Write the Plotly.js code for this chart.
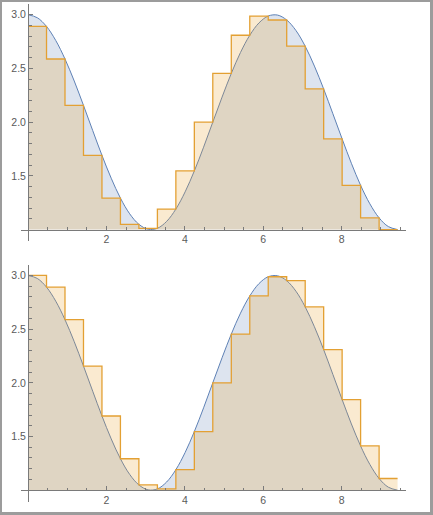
<!DOCTYPE html>
<html>
<head>
<meta charset="utf-8">
<script src="https://cdn.plot.ly/plotly-3.0.1.min.js"></script>
<style>
  html, body { margin: 0; padding: 0; background: #ffffff; }
  #wrap { position: relative; width: 433px; height: 515px; overflow: hidden; }
  #chart { position: absolute; left: 0; top: 0; width: 433px; height: 515px; }
  .bd { position: absolute; background: #9c9c9c; }
</style>
</head>
<body>
<div id="wrap">
  <div id="chart"></div>
  <div class="bd" style="left:0;top:0;width:2px;height:515px;"></div>
  <div class="bd" style="left:0;top:0;width:433px;height:2px;"></div>
  <div class="bd" style="left:430px;top:0;width:3px;height:515px;"></div>
  <div class="bd" style="left:0;top:512px;width:433px;height:3px;"></div>
</div>
<script>
// ---- data ----
var curveX = [0, 0.236, 0.471, 0.707, 0.942, 1.178, 1.414, 1.649, 1.885, 2.121, 2.356, 2.592, 2.827, 3.063, 3.299, 3.534, 3.770, 4.006, 4.241, 4.477, 4.712, 4.948, 5.184, 5.419, 5.655, 5.890, 6.126, 6.362, 6.597, 6.833, 7.069, 7.304, 7.540, 7.775, 8.011, 8.247, 8.482, 8.718, 8.954, 9.189, 9.425];
var curveY = [3.000, 2.972, 2.891, 2.760, 2.588, 2.383, 2.156, 1.922, 1.691, 1.478, 1.293, 1.147, 1.049, 1.003, 1.012, 1.076, 1.191, 1.351, 1.546, 1.767, 2.000, 2.233, 2.454, 2.649, 2.809, 2.924, 2.988, 2.997, 2.951, 2.853, 2.707, 2.522, 2.309, 2.078, 1.844, 1.617, 1.412, 1.240, 1.109, 1.028, 1.000];
var stepEdges = [0, 0.471, 0.942, 1.414, 1.885, 2.356, 2.827, 3.299, 3.770, 4.241, 4.712, 5.184, 5.655, 6.126, 6.597, 7.069, 7.540, 8.011, 8.482, 8.954, 9.425];
var topStepHeights = [2.891, 2.588, 2.156, 1.691, 1.293, 1.049, 1.012, 1.191, 1.546, 2.000, 2.454, 2.809, 2.988, 2.951, 2.707, 2.309, 1.844, 1.412, 1.109, 1.000];
var bottomStepHeights = [3.000, 2.891, 2.588, 2.156, 1.691, 1.293, 1.049, 1.012, 1.191, 1.546, 2.000, 2.454, 2.809, 2.988, 2.951, 2.707, 2.309, 1.844, 1.412, 1.109];
var xTickVals = [2, 4, 6, 8];
var yTickVals = [1.5, 2.0, 2.5, 3.0];
var yTickText = ["1.5", "2.0", "2.5", "3.0"];
var yOrigin = 1;

// ---- styling ----
var curveColor = '#5E81B5', curveFill = 'rgba(94,129,181,0.21)';
var stepColor = '#E3A033', stepFill = 'rgba(232,160,40,0.22)';
var axisColor = '#7a7a7a', labelColor = '#5a5a5a';
var xRange = [-0.18, 9.64], yRange = [0.89, 3.10];
var topDomain = [0.5233, 1], botDomain = [0, 0.4765];

function baseline(xa, ya) {
  var x0 = curveX[0], x1 = curveX[curveX.length - 1];
  return {x: [x0, x1], y: [yOrigin, yOrigin], mode: 'lines', line: {width: 0, color: 'rgba(0,0,0,0)'},
          xaxis: xa, yaxis: ya, hoverinfo: 'skip'};
}
function stepsTrace(heights, xa, ya) {
  return {x: stepEdges, y: heights.concat([heights[heights.length - 1]]), mode: 'lines',
          line: {shape: 'hv', color: stepColor, width: 1.3}, fill: 'tonexty', fillcolor: stepFill,
          xaxis: xa, yaxis: ya, hoverinfo: 'skip'};
}
function curveTrace(xa, ya) {
  return {x: curveX, y: curveY, mode: 'lines', line: {shape: 'spline', smoothing: 1, color: curveColor, width: 1},
          fill: 'tonexty', fillcolor: curveFill, xaxis: xa, yaxis: ya, hoverinfo: 'skip'};
}

var data = [
  baseline('x', 'y'), curveTrace('x', 'y'), baseline('x', 'y'), stepsTrace(topStepHeights, 'x', 'y'),
  baseline('x2', 'y2'), curveTrace('x2', 'y2'), baseline('x2', 'y2'), stepsTrace(bottomStepHeights, 'x2', 'y2')
];

function minorVals(a, b, d) { var v = []; for (var t = a; t <= b + 1e-9; t += d) v.push(+t.toFixed(3)); return v; }

function xAxis(domainY) {
  var frac = (yOrigin - yRange[0]) / (yRange[1] - yRange[0]);
  return {domain: [0, 1], range: xRange, anchor: 'free', position: domainY[0] + frac * (domainY[1] - domainY[0]),
          showline: true, linecolor: axisColor, linewidth: 1, showgrid: false, zeroline: false,
          ticks: 'inside', ticklen: 4, tickwidth: 1, tickcolor: axisColor,
          tickmode: 'array', tickvals: xTickVals, ticktext: xTickVals.map(String),
          minor: {ticks: 'inside', ticklen: 2.5, tickwidth: 1, tickcolor: axisColor, tickmode: 'array', tickvals: minorVals(0.5, 9.5, 0.5)},
          tickfont: {family: 'Liberation Sans, Arial, sans-serif', size: 10.5, color: labelColor}, fixedrange: true};
}
function yAxis(domainY) {
  var frac = (0 - xRange[0]) / (xRange[1] - xRange[0]);
  return {domain: domainY, range: yRange, anchor: 'free', position: frac,
          showline: true, linecolor: axisColor, linewidth: 1, showgrid: false, zeroline: false,
          ticks: 'inside', ticklen: 4, tickwidth: 1, tickcolor: axisColor,
          tickmode: 'array', tickvals: yTickVals, ticktext: yTickText,
          minor: {ticks: 'inside', ticklen: 2.5, tickwidth: 1, tickcolor: axisColor, tickmode: 'array', tickvals: minorVals(1.1, 3.0, 0.1)},
          tickfont: {family: 'Liberation Sans, Arial, sans-serif', size: 10.5, color: labelColor}, fixedrange: true};
}

var layout = {
  width: 433, height: 515,
  margin: {l: 21, r: 27, t: 4, b: 13, pad: 0},
  paper_bgcolor: 'rgba(255,255,255,1)', plot_bgcolor: 'rgba(0,0,0,0)',
  showlegend: false, hovermode: false,
  xaxis: xAxis(topDomain), yaxis: yAxis(topDomain),
  xaxis2: xAxis(botDomain), yaxis2: yAxis(botDomain)
};
layout.xaxis.anchor = 'free'; layout.xaxis2.anchor = 'free';

Plotly.newPlot('chart', data, layout, {staticPlot: true, displayModeBar: false});
</script>
</body>
</html>
